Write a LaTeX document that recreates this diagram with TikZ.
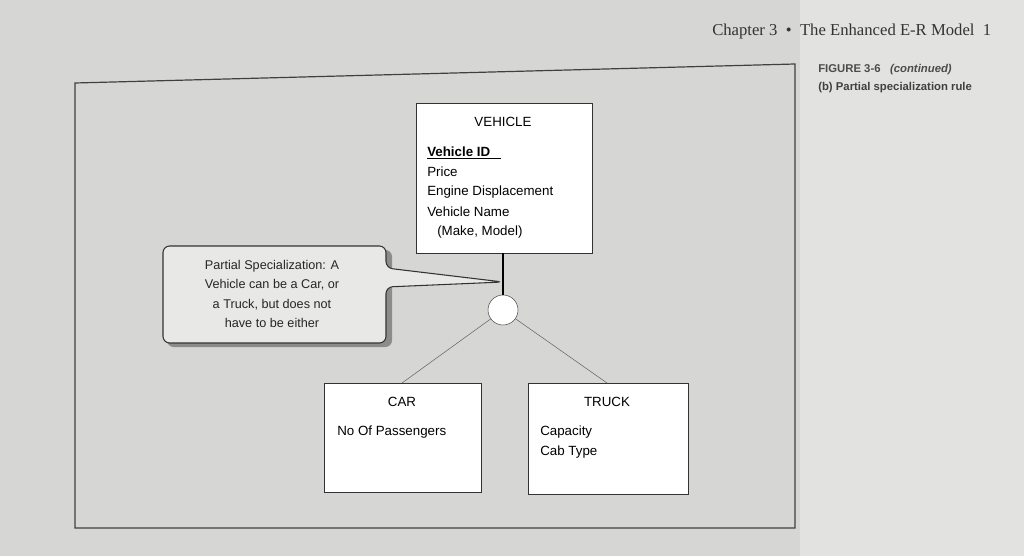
\documentclass[tikz,border=0pt]{standalone}
\usepackage{fontspec}
\setmainfont{Liberation Sans}
\newfontfamily\bookfont{Liberation Serif}
\definecolor{pagebg}{RGB}{214,214,212}
\definecolor{pageright}{RGB}{226,226,224}
\definecolor{callbg}{RGB}{232,232,230}
\begin{document}
\begin{tikzpicture}[x=0.75pt,y=-0.75pt,
  ent/.style={draw=black!80,fill=white,line width=0.7pt},
  attr/.style={anchor=west,font=\fontsize{10}{12}\selectfont,inner sep=0pt},
  ttl/.style={font=\fontsize{10}{12}\selectfont,inner sep=0pt},
  thin/.style={draw=black!60,line width=0.4pt}]
\path[use as bounding box,fill=pagebg] (0,0) rectangle (1024,556);
\fill[pageright] (800,0) rectangle (1024,556);
% header
\node[anchor=west,font=\bookfont\fontsize{12.5}{14}\selectfont,text=black!80,inner sep=0pt] (hdr) at (712,31) {Chapter 3 \ \textbullet\ \ The Enhanced E-R Model \ 1};
\node[anchor=west,font=\bfseries\fontsize{8.5}{10}\selectfont,text=black!70,inner sep=0pt] (fig) at (818,70) {FIGURE 3-6 \ \ \itshape(continued)};
\node[anchor=west,font=\bfseries\fontsize{8.5}{10}\selectfont,text=black!75,inner sep=0pt] (sub) at (818,88) {(b) Partial specialization rule};
% frame
\draw[black!75,line width=0.9pt] (75,83) -- (795,64) -- (795,528) -- (75,528) -- cycle;
% vehicle
\draw[ent] (416,103) rectangle (592,253);
\coordinate (vb) at (503,253);
\node[ttl] (vt) at (503,122) {VEHICLE};
\node[attr,font=\bfseries\fontsize{10}{12}\selectfont] (vid) at (427,152) {Vehicle ID};
\draw[line width=0.6pt] (vid.south west) ++(0,1.5) -- ++(74,0);
\node[attr] (a1) at (427,172) {Price};
\node[attr] (a2) at (427,192) {Engine Displacement};
\node[attr] (a3) at (427,212) {Vehicle Name};
\node[attr] (a4) at (437,232) {(Make, Model)};
% circle
\node[circle,draw=black!70,fill=white,minimum size=22.5pt,inner sep=0pt] (c) at (503,310) {};
\draw[line width=1.2pt] (vb) -- (c.north);
% car / truck
\draw[ent] (324,383) rectangle (481,492);
\draw[ent] (528,383) rectangle (688,494);
\coordinate (ct) at (402,383);
\coordinate (tt) at (607,383);
\draw[thin] (c) -- (ct);
\draw[thin] (c) -- (tt);
\node[ttl] (cart) at (402,402) {CAR};
\node[attr] (c1) at (337,432) {No Of Passengers};
\node[ttl] (trt) at (607,402) {TRUCK};
\node[attr] (t1) at (540,432) {Capacity};
\node[attr] (t2) at (540,452) {Cab Type};
% callout
\coordinate (tip) at (503,282);
\fill[black!45,rounded corners=5pt] (167,250) rectangle (392,347);
\draw[black!80,fill=callbg,line width=0.8pt,rounded corners=5pt]
 (163,246) -- (386,246) -- (386,268) -- (tip) -- (386,287) -- (386,343) -- (163,343) -- cycle;
\node[align=center,font=\fontsize{9.5}{14.5}\selectfont,text=black!85] (co) at (272,294)
 {Partial Specialization: A\\Vehicle can be a Car, or\\a Truck, but does not\\have to be either};
\end{tikzpicture}
\end{document}
